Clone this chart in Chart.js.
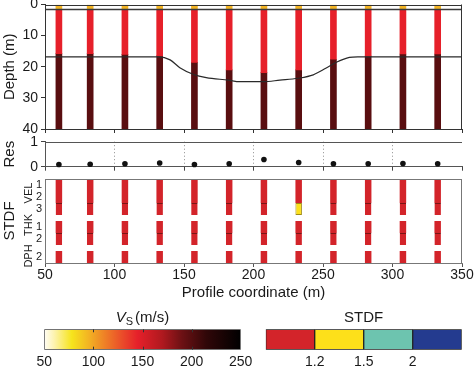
<!DOCTYPE html>
<html>
<head>
<meta charset="utf-8">
<title>Vs profile</title>
<script src="https://cdn.jsdelivr.net/npm/chart.js@4.4.1/dist/chart.umd.min.js"></script>
<style>
    body { margin: 0; background: #ffffff; }
    #figure { position: relative; width: 474px; height: 392px; overflow: hidden; }
    #figure canvas { position: absolute; }
</style>
</head>
<body>
<div id="figure">
    <canvas id="depthChart" width="474" height="140" style="left:0;top:0;width:474px;height:140px"></canvas>
    <canvas id="resChart" width="474" height="45" style="left:0;top:132px;width:474px;height:45px"></canvas>
    <canvas id="stdfChart" width="474" height="132" style="left:0;top:170px;width:474px;height:132px"></canvas>
    <canvas id="vsBar" width="262" height="70" style="left:0;top:305px;width:262px;height:70px"></canvas>
    <canvas id="stdfBar" width="224" height="70" style="left:250px;top:305px;width:224px;height:70px"></canvas>
</div>
<script>
// ===== Data =====
const stations = [60, 82.5, 107.5, 132.5, 157.5, 182.5, 207.5, 232.5, 257.5, 282.5, 307.5, 332.5];

// layer boundaries at each station (m)
const layer1Top = [0, 0, 0, 0, 0, 0, 0, 0, 0, 0, 0, 0];
const layer1Bottom = [1.6, 1.6, 1.6, 1.6, 1.6, 1.6, 1.6, 1.6, 1.6, 1.6, 1.6, 1.6];
const layer2Bottom = [15.8, 15.8, 16.0, 16.5, 18.6, 21.0, 21.9, 21.0, 17.6, 16.6, 15.9, 15.9];
const layer3Bottom = [40, 40, 40, 40, 40, 40, 40, 40, 40, 40, 40, 40];
const layerVs = [95, 145, 198];

// interpreted interface (black line)
const interfaceX = [50, 132, 140, 147, 157, 166, 182, 190, 207, 219, 232, 243, 252, 260, 269, 275, 350];
const interfaceDepth = [16.8, 16.8, 17.8, 20.3, 22.5, 23.5, 24.3, 24.8, 24.8, 24.3, 23.7, 22.6, 20.5, 18.5, 17.0, 16.8, 16.8];
const surfaceX = [50, 350];
const surfaceDepth = [1.6, 1.6];

// misfit
const residuals = [0.09, 0.1, 0.12, 0.15, 0.09, 0.12, 0.29, 0.17, 0.12, 0.12, 0.13, 0.12];

// STDF per parameter
const stdfVel1 = [1.1, 1.1, 1.1, 1.1, 1.1, 1.1, 1.1, 1.1, 1.1, 1.1, 1.1, 1.1];
const stdfVel2 = [1.1, 1.1, 1.1, 1.1, 1.1, 1.1, 1.1, 1.1, 1.1, 1.1, 1.1, 1.1];
const stdfVel3 = [1.1, 1.1, 1.1, 1.1, 1.1, 1.1, 1.1, 1.3, 1.1, 1.1, 1.1, 1.1];
const stdfThk1 = [1.1, 1.1, 1.1, 1.1, 1.1, 1.1, 1.1, 1.1, 1.1, 1.1, 1.1, 1.1];
const stdfThk2 = [1.1, 1.1, 1.1, 1.1, 1.1, 1.1, 1.1, 1.1, 1.1, 1.1, 1.1, 1.1];
const stdfDph2 = [1.1, 1.1, 1.1, 1.1, 1.1, 1.1, 1.1, 1.1, 1.1, 1.1, 1.1, 1.1];

const stdfGroups = ['VEL', 'THK', 'DPH'];
const stdfRowGroup = [0, 0, 0, 1, 1, 2];
const stdfRowLabels = ['1', '2', '3', '1', '2', '2'];
const stdfRowValues = [stdfVel1, stdfVel2, stdfVel3, stdfThk1, stdfThk2, stdfDph2];

const stdfBreaks = [1.2, 1.5, 2];
const stdfBinNames = ['< 1.2', '1.2 - 1.5', '1.5 - 2', '> 2'];

const xTicks = [50, 100, 150, 200, 250, 300, 350];
const depthTicks = [0, 10, 20, 30, 40];
const vsTicks = [50, 100, 150, 200, 250];

// Vs colour map
const vsStopValues = [50, 60, 78, 95, 110, 130, 145, 170, 190, 215, 250];
const vsStopColors = ['#fffdf5', '#fdf3b0', '#f6e41c', '#f3b423', '#ef8526', '#ea4a2a',
                      '#e6202a', '#b0191f', '#6d1114', '#300708', '#000000'];
const stdfColors = ['#d3242a', '#fde01a', '#6dc4af', '#243b8f'];

// ===== Helpers =====
Chart.defaults.font.family = '"Liberation Sans", Arial, sans-serif';
Chart.defaults.color = '#1a1a1a';

const TEXT_FONT = '"Liberation Sans", Arial, sans-serif';

function hexToRgb(h) {
    const n = parseInt(h.slice(1), 16);
    return [(n >> 16) & 255, (n >> 8) & 255, n & 255];
}

function vsColor(v) {
    for (let i = 1; i < vsStopValues.length; i++) {
        if (v <= vsStopValues[i]) {
            const t = (v - vsStopValues[i - 1]) / (vsStopValues[i] - vsStopValues[i - 1]);
            const a = hexToRgb(vsStopColors[i - 1]);
            const b = hexToRgb(vsStopColors[i]);
            return 'rgb(' + a.map((c, k) => Math.round(c + (b[k] - c) * t)).join(',') + ')';
        }
    }
    return vsStopColors[vsStopColors.length - 1];
}

function stdfBin(v) {
    let bin = 0;
    stdfBreaks.forEach(b => { if (v >= b) bin++; });
    return bin;
}

function xy(xs, ys) {
    return xs.map((x, i) => ({ x: x, y: ys[i] }));
}

// force fixed axis sizes so that the panels line up
function fixWidth(w) {
    return scale => { scale.width = w; scale.paddingTop = 0; scale.paddingBottom = 0; };
}
function fixHeight(h) {
    return scale => { scale.height = h; scale.paddingLeft = 0; scale.paddingRight = 0; };
}

function setTicks(values) {
    return axis => { axis.ticks = values.map(v => ({ value: v })); };
}

// frame lines round the plot area
const framePlugin = {
    id: 'frame',
    afterDatasetsDraw(chart, args, opts) {
        const { ctx, chartArea: a } = chart;
        const L = Math.round(a.left) + 0.5, R = Math.round(a.right) - 0.5;
        const T = Math.round(a.top) + 0.5, B = Math.round(a.bottom) - 0.5;
        ctx.save();
        ctx.strokeStyle = opts.color || '#333';
        ctx.lineWidth = opts.width || 1;
        ctx.beginPath();
        (opts.sides || []).forEach(s => {
            if (s === 'top') { ctx.moveTo(a.left, T); ctx.lineTo(a.right, T); }
            if (s === 'right') { ctx.moveTo(R, a.top); ctx.lineTo(R, a.bottom); }
            if (s === 'bottom') { ctx.moveTo(a.left, B); ctx.lineTo(a.right, B); }
            if (s === 'left') { ctx.moveTo(L, a.top); ctx.lineTo(L, a.bottom); }
        });
        ctx.stroke();
        ctx.restore();
    }
};

// ===== Depth panel =====
function layerDataset(label, tops, bottoms, vs) {
    return {
        type: 'bar',
        label: label,
        data: stations.map((x, i) => ({ x: x, y: [tops[i], bottoms[i]] })),
        backgroundColor: vsColor(vs),
        barThickness: 6,
        grouped: false,
        borderWidth: 0
    };
}

new Chart(document.getElementById('depthChart'), {
    type: 'bar',
    data: {
        datasets: [
            {
                type: 'line', label: 'Interface',
                data: xy(interfaceX, interfaceDepth),
                borderColor: '#2a2a2a', borderWidth: 1.2,
                pointRadius: 0, cubicInterpolationMode: 'monotone'
            },
            {
                type: 'line', label: 'Layer 1 base',
                data: xy(surfaceX, surfaceDepth),
                borderColor: '#3a3a3a', borderWidth: 1.4, pointRadius: 0
            },
            layerDataset('Layer 1', layer1Top, layer1Bottom, layerVs[0]),
            layerDataset('Layer 2', layer1Bottom, layer2Bottom, layerVs[1]),
            layerDataset('Layer 3', layer2Bottom, layer3Bottom, layerVs[2])
        ]
    },
    options: {
        responsive: false,
        animation: false,
        devicePixelRatio: 1,
        layout: { padding: { top: 4.5, right: 12, left: 0, bottom: 0 } },
        scales: {
            x: {
                type: 'linear', min: 50, max: 350, offset: false,
                afterBuildTicks: setTicks(xTicks),
                ticks: { display: false },
                grid: { drawOnChartArea: false, offset: false, tickLength: 4, tickColor: '#333' },
                border: { color: '#333' },
                afterFit: fixHeight(11)
            },
            y: {
                reverse: true, min: 0, max: 40,
                afterBuildTicks: setTicks(depthTicks),
                ticks: { font: { size: 14 }, padding: 3 },
                grid: { drawOnChartArea: false, tickLength: 4, tickColor: '#333' },
                border: { color: '#333' },
                title: { display: true, text: 'Depth (m)', font: { size: 15 }, padding: { top: 1, bottom: 0 } },
                afterFit: fixWidth(45)
            }
        },
        plugins: {
            legend: { display: false },
            tooltip: { enabled: false },
            frame: { sides: ['top', 'right'], color: '#333' }
        }
    },
    plugins: [framePlugin]
});

// ===== Residual panel =====
new Chart(document.getElementById('resChart'), {
    type: 'scatter',
    data: {
        datasets: [{
            label: 'Res',
            data: xy(stations, residuals),
            pointRadius: 2.8,
            pointBackgroundColor: '#111',
            pointBorderWidth: 0,
            clip: false
        }]
    },
    options: {
        responsive: false,
        animation: false,
        devicePixelRatio: 1,
        layout: { padding: { top: 9.7, right: 12, left: 0, bottom: 0 } },
        scales: {
            x: {
                type: 'linear', min: 50, max: 350,
                afterBuildTicks: setTicks(xTicks),
                ticks: { display: false },
                grid: {
                    color: c => (c.tick && (c.tick.value === 50 || c.tick.value === 350)) ? 'rgba(0,0,0,0)' : '#8c8c8c',
                    tickLength: 4, tickColor: '#444'
                },
                border: { color: '#555', dash: [1, 2.5] },
                afterFit: fixHeight(10.3)
            },
            y: {
                min: 0, max: 1,
                afterBuildTicks: setTicks([0, 1]),
                ticks: { font: { size: 14 }, padding: 3 },
                grid: { drawOnChartArea: false, tickLength: 4, tickColor: '#444' },
                border: { color: '#555' },
                title: { display: true, text: 'Res', font: { size: 15 }, padding: { top: 1, bottom: 0 } },
                afterFit: fixWidth(45)
            }
        },
        plugins: {
            legend: { display: false },
            tooltip: { enabled: false },
            frame: { sides: ['top'], color: '#555' }
        }
    },
    plugins: [framePlugin]
});

// ===== STDF panel =====
// row slots: one unit per row, half a unit between parameter groups
const stdfRowStart = stdfRowGroup.map((g, i) => i + 0.5 * g);
const stdfRowDivider = [false, false, true, false, true, false];
const stdfExtent = stdfRowStart[stdfRowStart.length - 1] + 1;
const stdfGroupShift = [-4, -8, -1];   // label nudges, px

const stdfDatasets = stdfRowValues.map((values, r) => ({
    type: 'bar',
    label: stdfGroups[stdfRowGroup[r]] + ' ' + stdfRowLabels[r],
    data: stations.map((x, i) => ({ x: x, y: [stdfRowStart[r], stdfRowStart[r] + 1] })),
    backgroundColor: values.map(v => stdfColors[stdfBin(v)]),
    borderColor: values.map(v => stdfBin(v) > 0 ? '#a08c14' : '#7a1515'),
    borderWidth: c => {
        const v = values[c.dataIndex];
        if (stdfBin(v) > 0) return 1;
        return stdfRowDivider[r] ? { top: 1, right: 0, bottom: 0, left: 0 } : 0;
    },
    borderSkipped: false,
    inflateAmount: 0,
    barThickness: 6.5,
    grouped: false
}));

const groupLabelPlugin = {
    id: 'groupLabels',
    afterDraw(chart) {
        const { ctx } = chart;
        const y = chart.scales.y;
        ctx.save();
        ctx.font = '11px ' + TEXT_FONT;
        ctx.fillStyle = '#1a1a1a';
        ctx.textAlign = 'center';
        ctx.textBaseline = 'middle';
        stdfGroups.forEach((name, g) => {
            const rows = stdfRowStart.filter((s, i) => stdfRowGroup[i] === g);
            const mid = (rows[0] + rows[rows.length - 1] + 1) / 2;
            ctx.save();
            ctx.translate(29, y.getPixelForValue(mid) + stdfGroupShift[g]);
            ctx.rotate(-Math.PI / 2);
            ctx.fillText(name, 0, 0);
            ctx.restore();
        });
        ctx.restore();
    }
};

new Chart(document.getElementById('stdfChart'), {
    type: 'bar',
    data: { datasets: stdfDatasets },
    options: {
        responsive: false,
        animation: false,
        devicePixelRatio: 1,
        layout: { padding: { top: 9, right: 12, left: 0, bottom: 0 } },
        scales: {
            x: {
                type: 'linear', min: 50, max: 350, offset: false,
                afterBuildTicks: setTicks(xTicks),
                ticks: { font: { size: 14 }, padding: 0 },
                grid: { drawOnChartArea: false, offset: false, tickLength: 4, tickColor: '#555' },
                border: { color: '#777' },
                title: { display: true, text: 'Profile coordinate (m)', font: { size: 15 }, padding: { top: 0, bottom: 0 } },
                afterFit: fixHeight(39)
            },
            y: {
                reverse: true, min: 0, max: stdfExtent,
                afterBuildTicks: setTicks(stdfRowStart.map(s => s + 0.5)),
                ticks: { font: { size: 11 }, padding: 3, callback: (v, i) => stdfRowLabels[i] },
                grid: { display: false, drawTicks: false },
                border: { color: '#777' },
                title: { display: true, text: 'STDF', font: { size: 15 }, padding: { top: 1, bottom: 0 } },
                afterFit: fixWidth(45)
            }
        },
        plugins: {
            legend: { display: false },
            tooltip: { enabled: false },
            frame: { sides: ['top', 'right'], color: '#777' }
        }
    },
    plugins: [framePlugin, groupLabelPlugin]
});

// ===== Colour bars =====
const barTitlePlugin = {
    id: 'barTitle',
    afterDraw(chart, args, opts) {
        const { ctx, chartArea: a } = chart;
        const parts = opts.parts || [];
        ctx.save();
        ctx.fillStyle = '#1a1a1a';
        ctx.textBaseline = 'middle';
        ctx.textAlign = 'left';
        let total = 0;
        parts.forEach(p => {
            ctx.font = p.font;
            p.w = ctx.measureText(p.text).width + (p.gap || 0);
            total += p.w;
        });
        let x = (a.left + a.right) / 2 - total / 2;
        const y = a.top - 11;
        parts.forEach(p => {
            ctx.font = p.font;
            ctx.fillText(p.text, x + (p.gap || 0), y + (p.dy || 0));
            x += p.w;
        });
        ctx.restore();
    }
};

const innerTickPlugin = {
    id: 'innerTicks',
    afterDatasetsDraw(chart, args, opts) {
        const { ctx, chartArea: a } = chart;
        const x = chart.scales.x;
        ctx.save();
        ctx.strokeStyle = '#333';
        ctx.lineWidth = 1;
        ctx.beginPath();
        (opts.values || []).forEach(v => {
            const px = Math.round(x.getPixelForValue(v)) + 0.5;
            ctx.moveTo(px, a.top); ctx.lineTo(px, a.top + 3);
            ctx.moveTo(px, a.bottom); ctx.lineTo(px, a.bottom - 3);
        });
        ctx.stroke();
        ctx.restore();
    }
};

function vsGradient(chart) {
    const x = chart.scales.x;
    if (!x) return vsColor(145);
    const x0 = x.getPixelForValue(vsTicks[0]);
    const x1 = x.getPixelForValue(vsTicks[vsTicks.length - 1]);
    if (!isFinite(x0) || !isFinite(x1) || x0 === x1) return vsColor(145);
    const g = chart.ctx.createLinearGradient(x0, 0, x1, 0);
    vsStopValues.forEach((v, i) => {
        g.addColorStop((v - vsTicks[0]) / (vsTicks[vsTicks.length - 1] - vsTicks[0]), vsStopColors[i]);
    });
    return g;
}

new Chart(document.getElementById('vsBar'), {
    type: 'bar',
    data: {
        labels: ['Vs'],
        datasets: [{
            label: 'Vs (m/s)',
            data: [[vsTicks[0], vsTicks[vsTicks.length - 1]]],
            backgroundColor: c => vsGradient(c.chart),
            borderColor: '#444',
            borderWidth: 1,
            borderSkipped: false,
            barPercentage: 1,
            categoryPercentage: 1
        }]
    },
    options: {
        indexAxis: 'y',
        responsive: false,
        animation: false,
        devicePixelRatio: 1,
        layout: { padding: { top: 24.3, left: 44.3, right: 21.3, bottom: 0 } },
        scales: {
            x: {
                type: 'linear', min: vsTicks[0], max: vsTicks[vsTicks.length - 1],
                afterBuildTicks: setTicks(vsTicks),
                ticks: { font: { size: 14 }, padding: 4 },
                grid: { display: false, drawTicks: false },
                border: { display: false },
                afterFit: fixHeight(25.3)
            },
            y: { display: false }
        },
        plugins: {
            legend: { display: false },
            tooltip: { enabled: false },
            innerTicks: { values: [100, 150, 200] },
            barTitle: {
                parts: [
                    { text: 'V', font: 'italic 15px ' + TEXT_FONT },
                    { text: 'S', font: '11px ' + TEXT_FONT, dy: 4 },
                    { text: '(m/s)', font: '15px ' + TEXT_FONT, gap: 2 }
                ]
            }
        }
    },
    plugins: [innerTickPlugin, barTitlePlugin]
});

new Chart(document.getElementById('stdfBar'), {
    type: 'bar',
    data: {
        labels: ['STDF'],
        datasets: stdfColors.map((col, i) => ({
            label: stdfBinNames[i],
            data: [1],
            backgroundColor: col,
            borderColor: '#222',
            borderWidth: 1,
            borderSkipped: false,
            barPercentage: 1,
            categoryPercentage: 1
        }))
    },
    options: {
        indexAxis: 'y',
        responsive: false,
        animation: false,
        devicePixelRatio: 1,
        layout: { padding: { top: 24.3, left: 15.7, right: 12.3, bottom: 0 } },
        scales: {
            x: {
                type: 'linear', min: 0, max: stdfColors.length, stacked: true,
                afterBuildTicks: setTicks(stdfBreaks.map((b, i) => i + 1)),
                ticks: { font: { size: 14 }, padding: 4, callback: (v, i) => String(stdfBreaks[i]) },
                grid: { display: false, drawTicks: false },
                border: { display: false },
                afterFit: fixHeight(25.3)
            },
            y: { display: false, stacked: true }
        },
        plugins: {
            legend: { display: false },
            tooltip: { enabled: false },
            barTitle: { parts: [{ text: 'STDF', font: '15px ' + TEXT_FONT }] }
        }
    },
    plugins: [barTitlePlugin]
});
</script>
</body>
</html>
